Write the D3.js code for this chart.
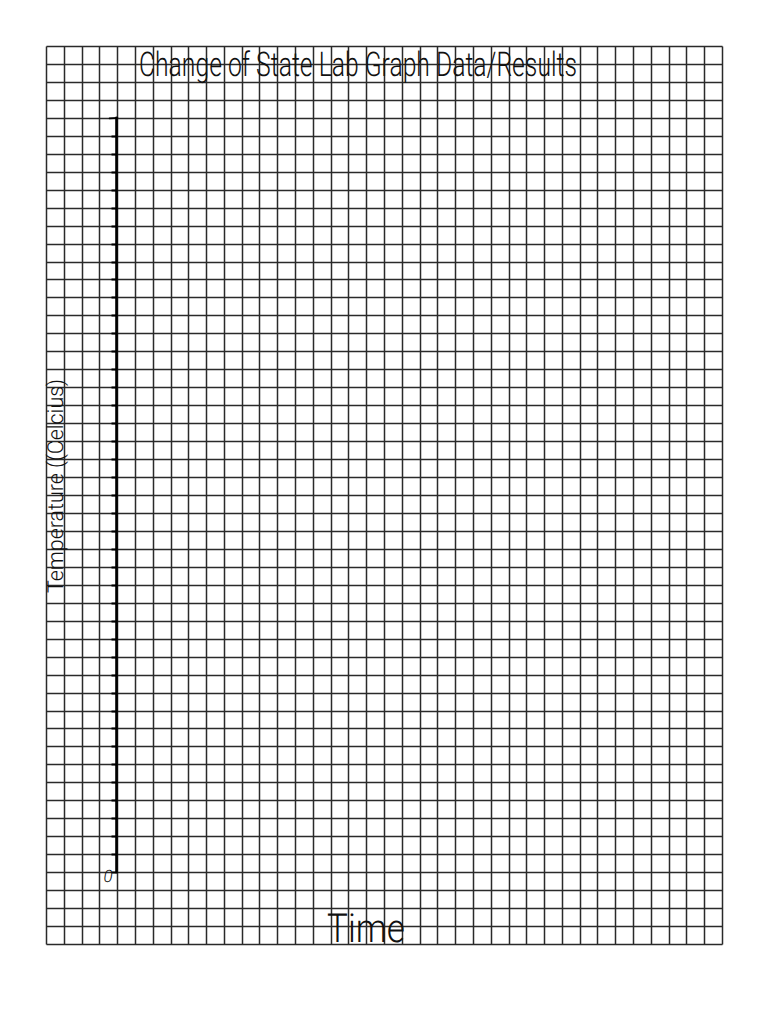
<!DOCTYPE html>
<html>
<head>
<meta charset="utf-8">
<script src="https://cdn.jsdelivr.net/npm/d3@7"></script>
<style>
  html, body { margin: 0; padding: 0; background: #fff; }
  svg { display: block; }
  text { text-rendering: geometricPrecision; -webkit-font-smoothing: antialiased; }
</style>
</head>
<body>
<script>
// ---- data ----
const gridColumns = 38;          // cells across
const gridRows = 50;             // cells down
const titleText = "Change of State Lab Graph Data/Results";
const yLabelText = "Temperature ((Celcius)";
const xLabelText = "Time";
const yTickLabels = ["0"];
// y axis: column index and row span (top row, bottom row = value 0)
const yAxisColumn = [4];
const yAxisRows = [4, 46];
// tick marks on the y axis, one per grid row between the ends
const yTickRows = [4,5,6,7,8,9,10,11,12,13,14,15,16,17,18,19,20,21,22,23,24,25,26,27,28,29,30,31,32,33,34,35,36,37,38,39,40,41,42,43,44,45,46];

const W = 768, H = 1024;
const svg = d3.select("body").append("svg").attr("width", W).attr("height", H);
svg.append("rect").attr("width", W).attr("height", H).attr("fill", "#fff");

const x = d3.scaleLinear().domain([0, gridColumns]).range([46, 722]);
const y = d3.scaleLinear().domain([0, gridRows]).range([46, 944]);
const px = v => Math.round(v) + 0.5;

// grid lines
const g = svg.append("g").attr("stroke", "#2a2a2a").attr("stroke-width", 1.5);
g.selectAll("line.v").data(d3.range(gridColumns + 1)).join("line")
  .attr("class", "v")
  .attr("x1", d => px(x(d))).attr("x2", d => px(x(d)))
  .attr("y1", px(y(0))).attr("y2", px(y(gridRows)));
g.selectAll("line.h").data(d3.range(gridRows + 1)).join("line")
  .attr("class", "h")
  .attr("y1", d => px(y(d))).attr("y2", d => px(y(d)))
  .attr("x1", px(x(0))).attr("x2", px(x(gridColumns)));

// y axis (hand-drawn)
const ax = px(x(yAxisColumn[0])) - 1;
const axisG = svg.append("g");
axisG.append("line")
  .attr("x1", ax).attr("x2", ax)
  .attr("y1", y(yAxisRows[0])).attr("y2", y(yAxisRows[1]))
  .attr("stroke", "#000").attr("stroke-width", 2.6).attr("stroke-linecap", "round");
axisG.append("line")
  .attr("x1", ax - 7).attr("x2", ax + 1)
  .attr("y1", y(yAxisRows[0]) + 0.5).attr("y2", y(yAxisRows[0]))
  .attr("stroke", "#000").attr("stroke-width", 1.6).attr("stroke-linecap", "round");
axisG.selectAll("line.tick").data(yTickRows.slice(1)).join("line")
  .attr("class", "tick")
  .attr("x1", ax - 5).attr("x2", ax)
  .attr("y1", d => px(y(d))).attr("y2", d => px(y(d)))
  .attr("stroke", "#000").attr("stroke-width", 2);

// texts (handwritten look)
const handFont = "Roboto, 'Liberation Sans Narrow', 'DejaVu Sans', sans-serif";
svg.append("text")
  .attr("x", 139).attr("y", 76)
  .attr("font-family", handFont).attr("font-weight", 300)
  .attr("font-size", 34).attr("fill", "#111")
  .attr("textLength", 438).attr("lengthAdjust", "spacingAndGlyphs")
  .text(titleText);

svg.append("text")
  .attr("transform", `translate(63,${593}) rotate(-90)`)
  .attr("font-family", handFont).attr("font-weight", 300)
  .attr("font-size", 22).attr("fill", "#111")
  .attr("textLength", 214).attr("lengthAdjust", "spacingAndGlyphs")
  .text(yLabelText);

svg.append("text")
  .attr("x", 327).attr("y", 942)
  .attr("font-family", handFont).attr("font-weight", 300)
  .attr("font-size", 40).attr("fill", "#111")
  .attr("textLength", 78).attr("lengthAdjust", "spacingAndGlyphs")
  .text(xLabelText);

svg.selectAll("text.y0").data(yTickLabels).join("text")
  .attr("class", "y0")
  .attr("x", 108).attr("y", 882)
  .attr("text-anchor", "middle")
  .attr("font-family", handFont).attr("font-weight", 300).attr("font-style", "italic")
  .attr("font-size", 17).attr("fill", "#111")
  .text(d => d);
</script>
</body>
</html>
